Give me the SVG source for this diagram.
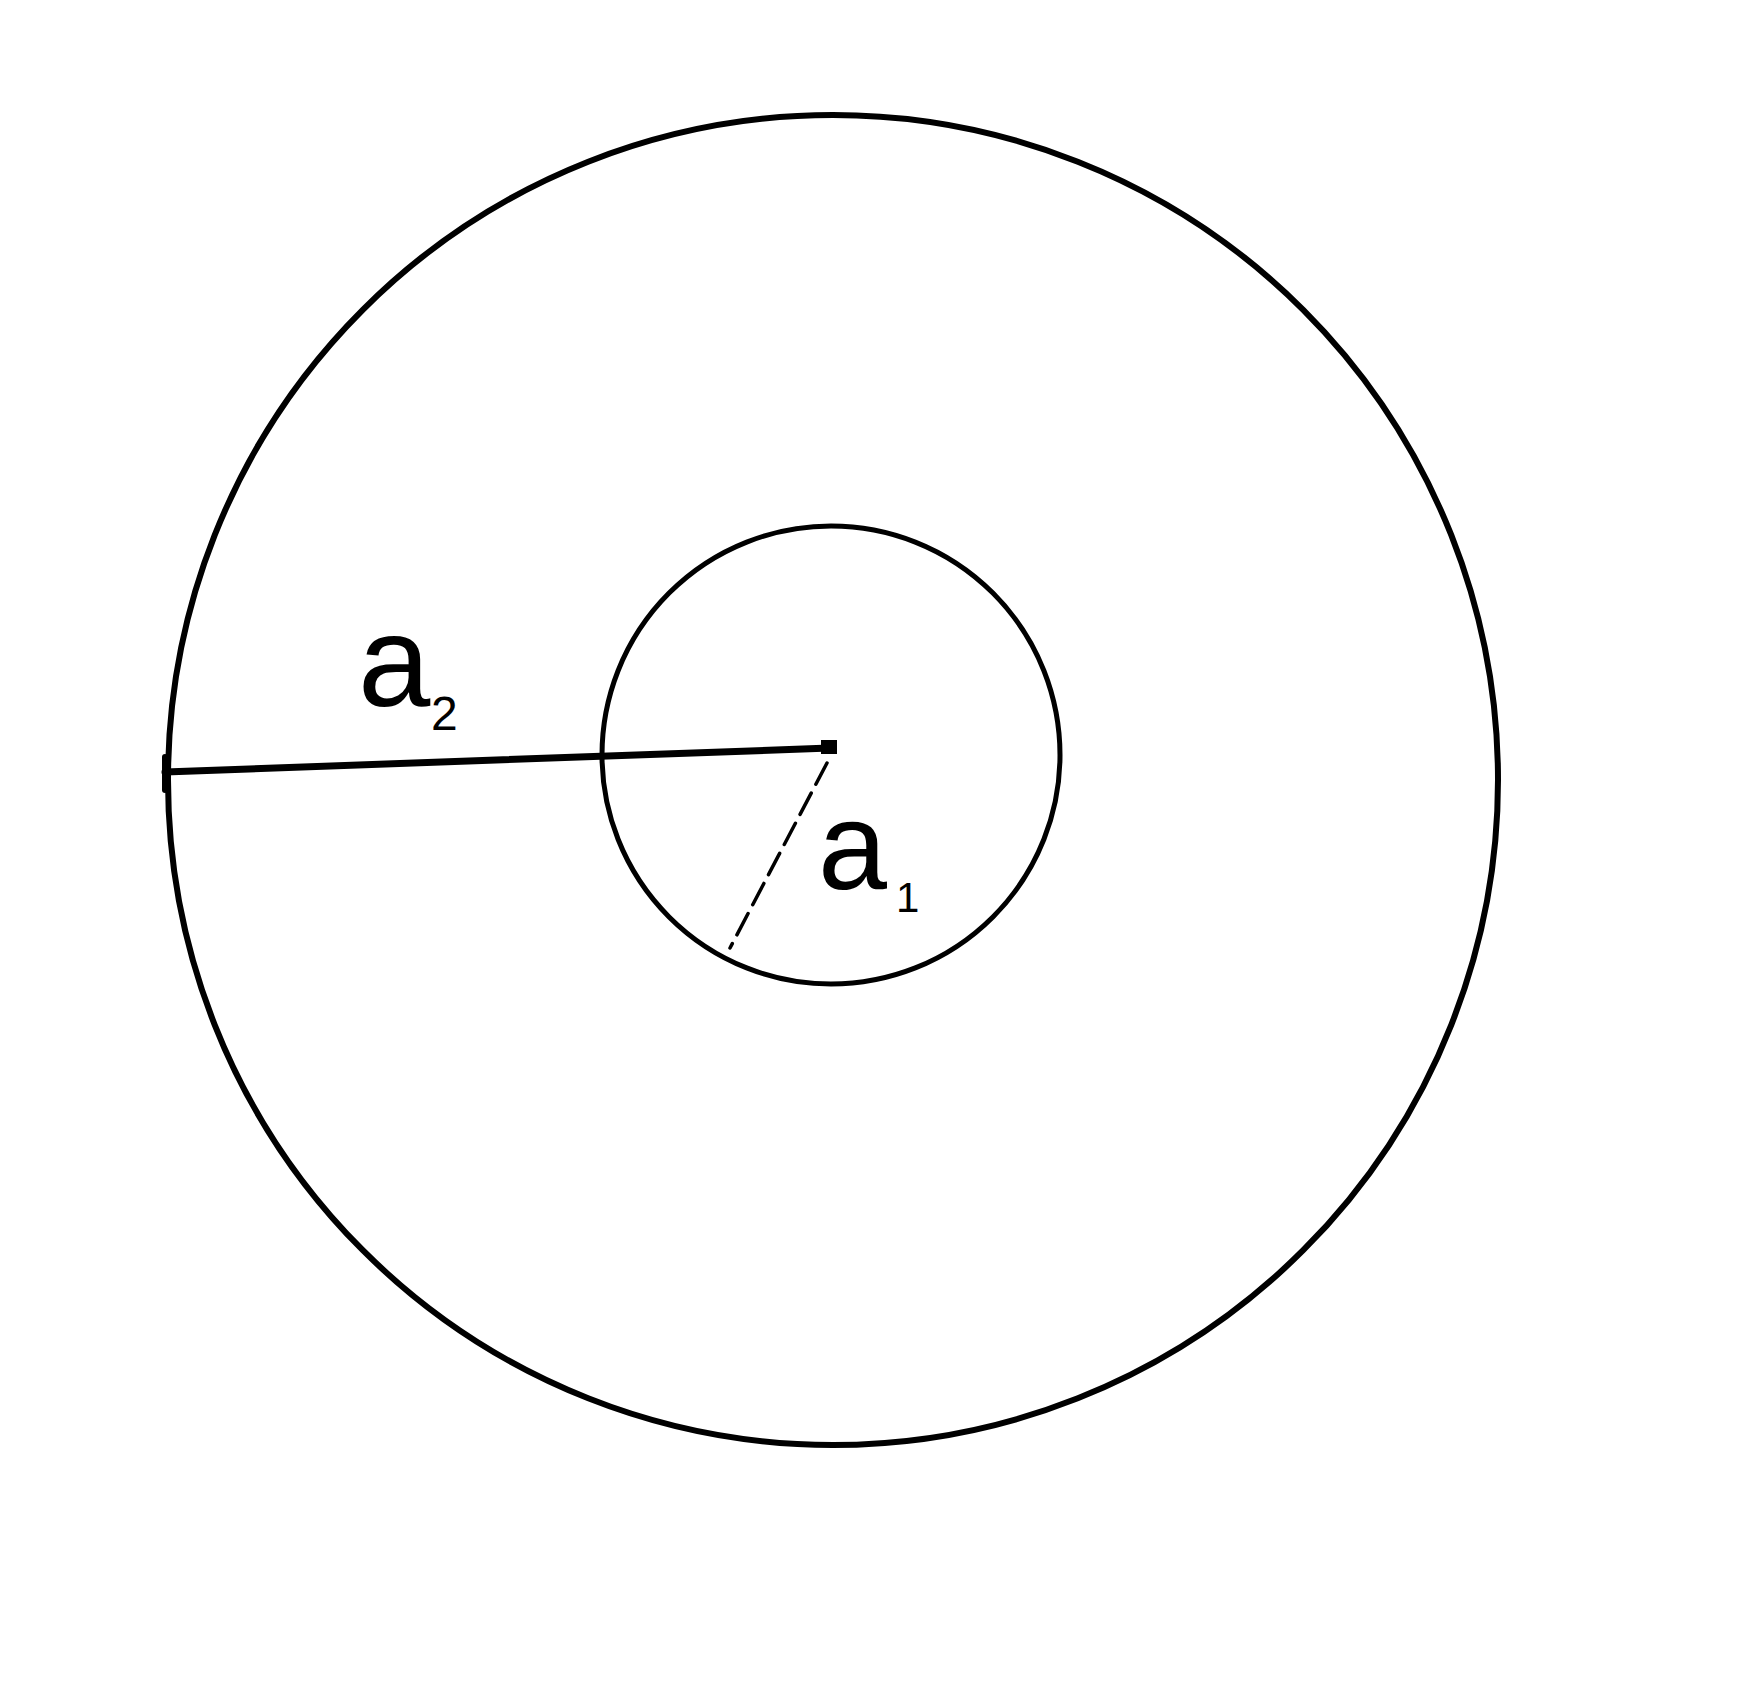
<svg xmlns="http://www.w3.org/2000/svg" width="1741" height="1688" viewBox="0 0 1741 1688">
<style>
.c{fill:none;stroke:#000;stroke-linecap:round}
.t{font-family:"Liberation Sans",Arial,sans-serif;fill:#000}
</style>
<rect width="1741" height="1688" fill="#fff"/>
<g id="outer-circle"><circle class="c" cx="833" cy="780" r="665" stroke-width="6"/></g>
<g id="inner-circle"><circle class="c" cx="831" cy="755" r="229" stroke-width="5"/></g>
<g id="center"><rect x="821" y="740" width="16" height="14" fill="#000"/></g>
<g id="connectors">
<line class="c" x1="165" y1="772" x2="830" y2="748" stroke-width="7"/>
<line class="c" x1="165" y1="757" x2="165" y2="790" stroke-width="6"/>
<line class="c" x1="827" y1="763" x2="730" y2="948" stroke-width="3.5" stroke-dasharray="24 10"/>
</g>
<g id="label-a2"><text class="t" x="358" y="706" font-size="130">a</text><text class="t" x="431" y="730" font-size="48">2</text></g>
<g id="label-a1"><text class="t" x="818" y="889" font-size="124">a</text><text class="t" x="896" y="912" font-size="42">1</text></g>
</svg>
